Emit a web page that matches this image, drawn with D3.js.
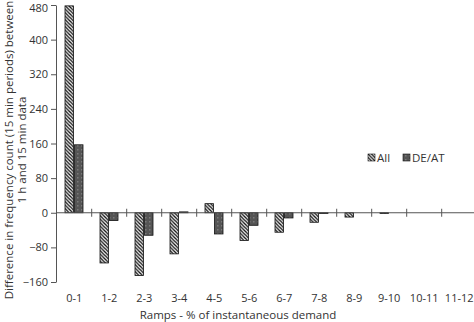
<!DOCTYPE html>
<html><head><meta charset="utf-8">
<script src="https://cdn.jsdelivr.net/npm/d3@7"></script>
<style>body{margin:0;background:#fff}svg{display:block;font-family:"Open Sans",sans-serif}</style>
</head><body>
<svg id="c" width="474" height="322"></svg>
<script>
const categories = ["0-1","1-2","2-3","3-4","4-5","5-6","6-7","7-8","8-9","9-10","10-11","11-12"];
const seriesNames = ["All","DE/AT"];
const allValues = [478,-116,-145,-95,21,-64,-45,-22,-10,-1,0,0];
const deatValues = [157,-18,-52,2,-49,-29,-12,-1,0,0,0,0];
const yTicks = [-160,-80,0,80,160,240,320,400,480];

const svg = d3.select("#c");
const defs = svg.append("defs");
const hatch = defs.append("pattern").attr("id","hatch").attr("patternUnits","userSpaceOnUse")
  .attr("width",3.5).attr("height",3.5);
hatch.append("rect").attr("width",3.5).attr("height",3.5).attr("fill","#fff");
hatch.append("path").attr("d","M-1,-1 L4.5,4.5 M2.5,-1 L4.5,1 M-1,2.5 L1,4.5").attr("stroke","#111").attr("stroke-width",1.3);
const dots = defs.append("pattern").attr("id","dots").attr("patternUnits","userSpaceOnUse")
  .attr("width",4).attr("height",4);
dots.append("rect").attr("width",4).attr("height",4).attr("fill","#555");
dots.append("rect").attr("x",1).attr("y",1).attr("width",1.5).attr("height",1.5).attr("fill","#7a7a7a");

const x = d3.scaleBand().domain(categories).range([56.7,476.7]);
const y = d3.scaleLinear().domain([-160,480]).range([282,5]);
const xs = d3.scaleBand().domain(seriesNames).range([8.3,26.3]).paddingInner(0.1);

const data = categories.map((c,i)=>({c, vals:[allValues[i],deatValues[i]]}));
const fills = ["url(#hatch)","url(#dots)"];

// y axis
const yAxis = svg.append("g").attr("transform","translate(56,0)")
  .call(d3.axisLeft(y).tickValues(yTicks).tickSize(5).tickSizeOuter(0));
yAxis.select(".domain").attr("stroke","#555");
yAxis.selectAll(".tick line").attr("stroke","#555");
yAxis.selectAll(".tick text").attr("font-size",11).attr("fill","#333").attr("font-family","Open Sans")
  .attr("y", d => d === 480 ? 2.5 : 0);

// bars
const g = svg.append("g");
data.forEach(d=>{
  d.vals.forEach((v,j)=>{
    if (v===0) return;
    g.append("rect")
      .attr("x", x(d.c)+xs(seriesNames[j]))
      .attr("width", xs.bandwidth())
      .attr("y", y(Math.max(0,v)))
      .attr("height", Math.max(0.8, Math.abs(y(v)-y(0))))
      .attr("fill", fills[j]).attr("stroke","#111").attr("stroke-width",0.8);
  });
});

// x axis at zero
const xAxis = svg.append("g").attr("transform",`translate(0,${y(0)})`);
xAxis.append("line").attr("x1",56).attr("x2",476).attr("stroke","#555");
xAxis.selectAll("line.tk").data(categories.slice(1)).enter().append("line")
  .attr("x1",d=>x(d)).attr("x2",d=>x(d)).attr("y1",-4).attr("y2",4).attr("stroke","#555");

// category labels
svg.append("g").selectAll("text").data(categories).enter().append("text")
  .attr("x",d=>x(d)+x.bandwidth()/2).attr("y",302).attr("text-anchor","middle")
  .attr("font-size",11).attr("fill","#333").text(d=>d);

// x title
svg.append("text").attr("x",238).attr("y",319).attr("text-anchor","middle")
  .attr("font-size",11.5).attr("fill","#333").text("Ramps - % of instantaneous demand");

// y title
const yt = svg.append("text").attr("transform","translate(0,150) rotate(-90)")
  .attr("text-anchor","middle").attr("font-size",11.5).attr("fill","#333");
yt.append("tspan").attr("x",0).attr("y",13).text("Difference in frequency count (15 min periods)  between");
yt.append("tspan").attr("x",0).attr("y",26).text("1 h and  15 min data");

// legend
const leg = svg.append("g").attr("transform","translate(368,154)");
seriesNames.forEach((s,i)=>{
  const lx = i===0?0:35;
  leg.append("rect").attr("x",lx).attr("y",0).attr("width",7).attr("height",7)
    .attr("fill",fills[i]).attr("stroke","#111").attr("stroke-width",0.6);
  leg.append("text").attr("x",lx+9).attr("y",8).attr("font-size",11.5).attr("fill","#333").text(s);
});
</script>
</body></html>
